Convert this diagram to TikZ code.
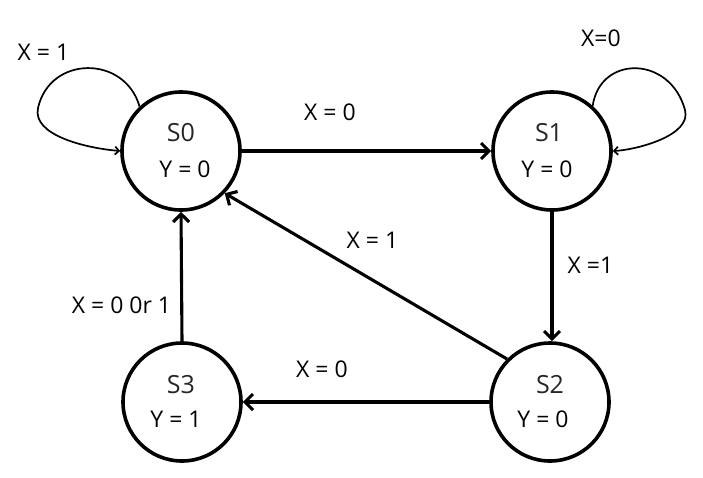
\documentclass[tikz,border=0pt]{standalone}
\usepackage{fontspec}
\setmainfont{Open Sans}
\usetikzlibrary{arrows.meta}
\tikzset{
  state/.style={circle, draw=black, line width=3.6pt, minimum size=118pt, inner sep=0pt},
  edge/.style={draw=black, line width=3.1pt, -{Straight Barb[length=8pt,width=16pt,line width=3.1pt]}},
  loopedge/.style={draw=black, line width=1.7pt, -{Straight Barb[length=4pt,width=8pt,line width=1.7pt]}},
  lbl/.style={anchor=base, inner sep=0pt, font=\fontsize{23}{27}\selectfont},
  sname/.style={anchor=base, inner sep=0pt, font=\fontsize{25}{29}\selectfont, text=black!85},
}
\begin{document}
\begin{tikzpicture}[x=1pt,y=-1pt]
\useasboundingbox (0,0) rectangle (703,477);
% states
\node[state] (s0) at (181,151) {};
\node[state] (s1) at (552,151) {};
\node[state] (s2) at (550,402) {};
\node[state] (s3) at (182,402) {};
% state texts
\node[sname] (s0n) at (181,141) {S0};
\node[lbl] (s0y) at (185,177) {Y = 0};
\node[sname] (s1n) at (549,141) {S1};
\node[lbl] (s1y) at (547,177) {Y = 0};
\node[sname] (s2n) at (550,393) {S2};
\node[lbl] (s2y) at (543,427) {Y = 0};
\node[sname] (s3n) at (181,393) {S3};
\node[lbl] (s3y) at (176,427) {Y = 1};
% edges
\draw[edge] (s0.east) -- (s1.west);
\draw[edge] (s1.south) -- (s1.south |- s2.north);
\draw[edge] (s2.135) -- (s0.-44);
\draw[edge] (s2.west) -- (s3.east);
\draw[edge] (s3.north) -- (s0.south);
% self loops
\coordinate (p0) at (38,108);
\coordinate (p1) at (685,110);
\draw[loopedge] (s0.133) .. controls (125,55) and (50,55) .. (p0)
  .. controls (32,135) and (85,148) .. (s0.west);
\draw[loopedge] (s1.48) .. controls (600,55) and (670,55) .. (p1)
  .. controls (692,136) and (635,150) .. (s1.east);
% edge labels
\node[lbl] (l00) at (43.5,60) {X = 1};
\node[lbl] (l01) at (330,120) {X = 0};
\node[lbl] (l11) at (601,46) {X=0};
\node[lbl] (l20) at (372.5,248) {X = 1};
\node[lbl] (l12) at (590.5,273) {X =1};
\node[lbl] (l30) at (121.5,313) {X = 0 0r 1};
\node[lbl] (l23) at (322,377) {X = 0};
\end{tikzpicture}
\end{document}
